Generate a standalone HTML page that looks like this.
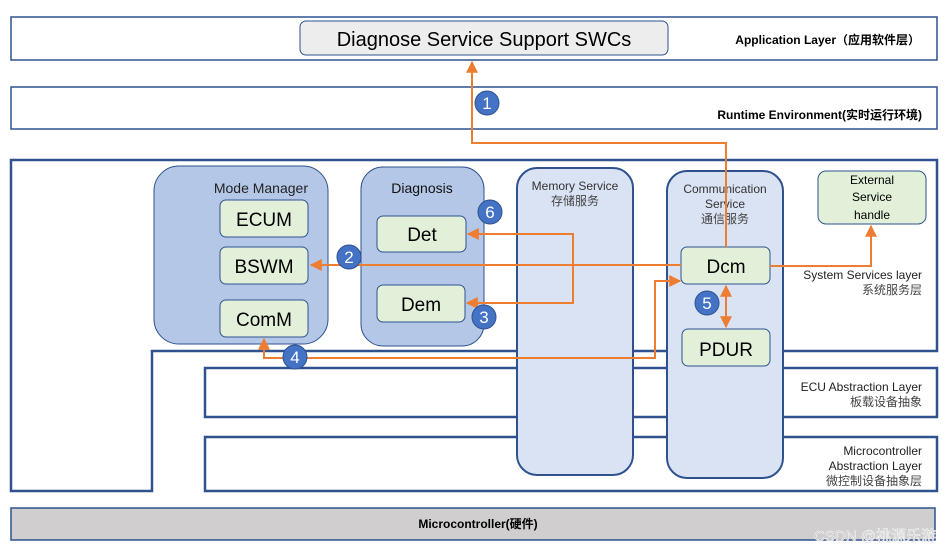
<!DOCTYPE html>
<html><head><meta charset="utf-8"><style>
html,body{margin:0;padding:0;background:#fff;}
svg{display:block;}
text{font-family:"Liberation Sans","Noto Sans CJK SC",sans-serif;}
</style></head><body>
<svg width="948" height="552" viewBox="0 0 948 552" xmlns="http://www.w3.org/2000/svg">
<defs>
<marker id="ah" viewBox="0 0 10 10" refX="9" refY="5" markerWidth="6" markerHeight="6" orient="auto-start-reverse"><path d="M0,0 L10,5 L0,10 z" fill="#ed7d31"/></marker>
</defs>
<rect x="11" y="17" width="926" height="43" fill="#fff" stroke="#2f528f" stroke-width="1.5"/>
<rect x="300" y="21" width="368" height="34" rx="6" fill="#ededed" stroke="#2f528f" stroke-width="1"/>
<text x="484" y="46" font-size="20" text-anchor="middle" fill="#000">Diagnose Service Support SWCs</text>
<text x="920" y="44" font-size="12" font-weight="bold" text-anchor="end">Application Layer（应用软件层）</text>
<rect x="11" y="87" width="926" height="42" fill="#fff" stroke="#2f528f" stroke-width="1.5"/>
<text x="922" y="119" font-size="12" font-weight="bold" text-anchor="end">Runtime Environment(实时运行环境)</text>
<path d="M11,160 H937 V351 H152 V491 H11 Z" fill="#fff" stroke="#2f528f" stroke-width="2.5"/>
<rect x="205" y="368" width="732" height="49" fill="#fff" stroke="#2f528f" stroke-width="2.5"/>
<rect x="205" y="437" width="732" height="54" fill="#fff" stroke="#2f528f" stroke-width="2.5"/>
<text x="922" y="279" font-size="12" text-anchor="end" fill="#222">System Services layer</text>
<text x="922" y="294" font-size="12" text-anchor="end" fill="#444">系统服务层</text>
<text x="922" y="391" font-size="12" text-anchor="end" fill="#222">ECU Abstraction Layer</text>
<text x="922" y="406" font-size="12" text-anchor="end" fill="#444">板载设备抽象</text>
<text x="922" y="455" font-size="12" text-anchor="end" fill="#222">Microcontroller</text>
<text x="922" y="470" font-size="12" text-anchor="end" fill="#222">Abstraction Layer</text>
<text x="922" y="485" font-size="12" text-anchor="end" fill="#444">微控制设备抽象层</text>
<rect x="11" y="508" width="924" height="32" fill="#d0cece" stroke="#2f528f" stroke-width="1.5"/>
<text x="478" y="528" font-size="12" font-weight="bold" text-anchor="middle">Microcontroller(硬件)</text>
<text x="936" y="541" font-size="15" text-anchor="end" fill="#bbb" stroke="#fff" stroke-width="0.5">CSDN @桃源乐游</text>
<rect x="154" y="166" width="174" height="178" rx="25" fill="#b4c7e7" stroke="#2f528f" stroke-width="1"/>
<text x="308" y="193" font-size="14" text-anchor="end" fill="#222">Mode Manager</text>
<rect x="220" y="200" width="88" height="37" rx="6" fill="#e2f0d9" stroke="#2f528f"/>
<text x="264" y="226" font-size="19" text-anchor="middle">ECUM</text>
<rect x="220" y="247" width="88" height="37" rx="6" fill="#e2f0d9" stroke="#2f528f"/>
<text x="264" y="273" font-size="19" text-anchor="middle">BSWM</text>
<rect x="220" y="300" width="88" height="37" rx="6" fill="#e2f0d9" stroke="#2f528f"/>
<text x="264" y="326" font-size="19" text-anchor="middle">ComM</text>
<rect x="361" y="167" width="123" height="179" rx="22" fill="#b4c7e7" stroke="#2f528f" stroke-width="1"/>
<text x="422" y="193" font-size="14" text-anchor="middle" fill="#111">Diagnosis</text>
<rect x="377" y="216" width="89" height="36" rx="6" fill="#e2f0d9" stroke="#2f528f"/>
<text x="422" y="241" font-size="19" text-anchor="middle">Det</text>
<rect x="377" y="285" width="88" height="37" rx="6" fill="#e2f0d9" stroke="#2f528f"/>
<text x="421" y="311" font-size="19" text-anchor="middle">Dem</text>
<rect x="517" y="168" width="116" height="307" rx="20" fill="#dae3f3" stroke="#2f528f" stroke-width="2"/>
<text x="575" y="190" font-size="12" text-anchor="middle" fill="#333">Memory Service</text>
<text x="575" y="205" font-size="12" text-anchor="middle" fill="#444">存储服务</text>
<rect x="667" y="171" width="116" height="307" rx="20" fill="#dae3f3" stroke="#2f528f" stroke-width="2"/>
<text x="725" y="193" font-size="12" text-anchor="middle" fill="#333">Communication</text>
<text x="725" y="208" font-size="12" text-anchor="middle" fill="#333">Service</text>
<text x="725" y="223" font-size="12" text-anchor="middle" fill="#444">通信服务</text>
<rect x="681" y="247" width="89" height="37" rx="6" fill="#e2f0d9" stroke="#2f528f"/>
<text x="726" y="273" font-size="19" text-anchor="middle">Dcm</text>
<rect x="682" y="329" width="88" height="37" rx="6" fill="#e2f0d9" stroke="#2f528f"/>
<text x="726" y="356" font-size="19" text-anchor="middle">PDUR</text>
<rect x="818" y="171" width="108" height="53" rx="8" fill="#e2f0d9" stroke="#2f528f"/>
<text x="872" y="184" font-size="12" text-anchor="middle">External</text>
<text x="872" y="201" font-size="12" text-anchor="middle">Service</text>
<text x="872" y="219" font-size="12" text-anchor="middle">handle</text>
<g fill="none" stroke="#ed7d31" stroke-width="2">
<path d="M726,247 V143 H472 V62" marker-end="url(#ah)"/>
<path d="M681,265 H311" marker-end="url(#ah)"/>
<path d="M468,234 H573 V303 H467" marker-start="url(#ah)" marker-end="url(#ah)"/>
<path d="M264,339 V358 H655 V281 H680" marker-start="url(#ah)" marker-end="url(#ah)"/>
<path d="M726,286 V327" marker-start="url(#ah)" marker-end="url(#ah)"/>
<path d="M770,266 H871 V226" marker-end="url(#ah)"/>
</g>
<g fill="#4472c4" stroke="#2f528f" stroke-width="1">
<circle cx="487" cy="103" r="12"/>
<circle cx="349" cy="257" r="12"/>
<circle cx="490" cy="212" r="12"/>
<circle cx="484" cy="317" r="12"/>
<circle cx="295" cy="357" r="12"/>
<circle cx="707" cy="303" r="12"/>
</g>
<g fill="#fff" font-size="17" text-anchor="middle">
<text x="487" y="109">1</text>
<text x="349" y="263">2</text>
<text x="490" y="218">6</text>
<text x="484" y="323">3</text>
<text x="295" y="363">4</text>
<text x="707" y="309">5</text>
</g>
</svg>
</body></html>
